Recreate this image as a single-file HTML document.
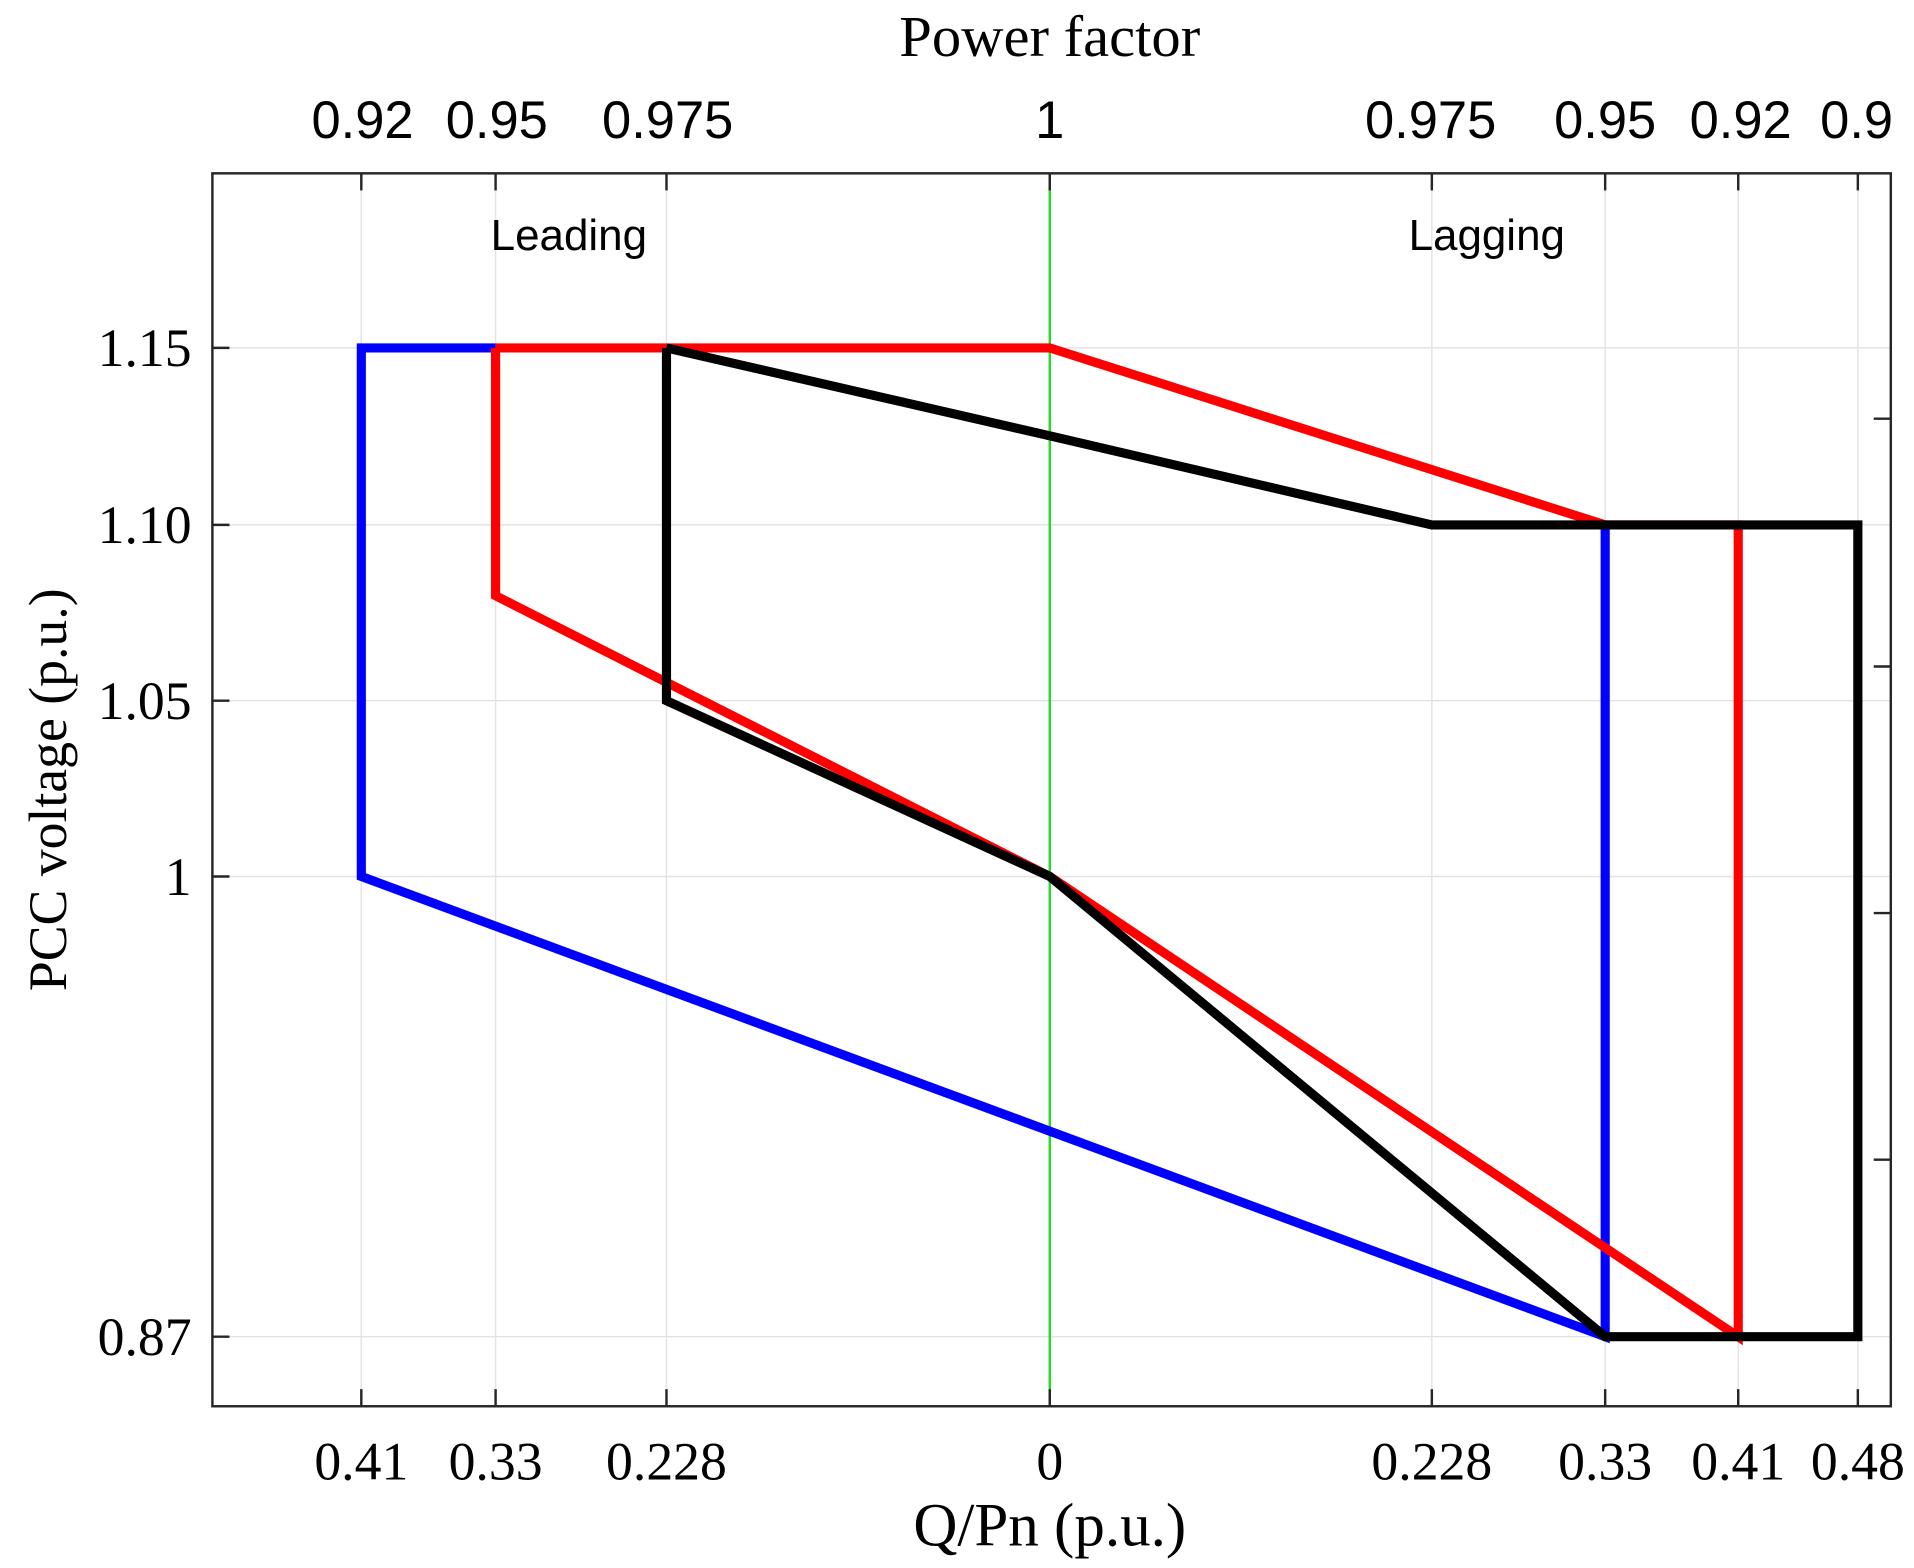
<!DOCTYPE html>
<html><head><meta charset="utf-8"><style>
html,body{margin:0;padding:0;background:#fff;}
svg{display:block;}
.s{font-family:"Liberation Serif",serif;font-size:44px;fill:#000;}
.a{font-family:"Liberation Sans",sans-serif;font-size:43px;fill:#000;}
</style></head><body>
<svg width="1914" height="1568" viewBox="0 0 1568 1284.5" preserveAspectRatio="none" xmlns="http://www.w3.org/2000/svg">
<rect width="1568" height="1284.5" fill="#fff"/>
<g stroke="#e3e3e3" stroke-width="1.2">
<line x1="296" y1="142" x2="296" y2="1152"/><line x1="406" y1="142" x2="406" y2="1152"/>
<line x1="546" y1="142" x2="546" y2="1152"/><line x1="1173" y1="142" x2="1173" y2="1152"/>
<line x1="1315" y1="142" x2="1315" y2="1152"/><line x1="1424" y1="142" x2="1424" y2="1152"/>
<line x1="1522" y1="142" x2="1522" y2="1152"/>
<line x1="174" y1="285" x2="1549" y2="285"/><line x1="174" y1="430" x2="1549" y2="430"/>
<line x1="174" y1="574" x2="1549" y2="574"/><line x1="174" y1="718" x2="1549" y2="718"/>
<line x1="174" y1="1095" x2="1549" y2="1095"/>
</g>
<line x1="860" y1="142" x2="860" y2="1152" stroke="#22dd22" stroke-width="2"/>
<g fill="none" stroke-width="7.5" stroke-linejoin="miter">
<polyline stroke="#0000ff" points="406,285 296,285 296,718 1315,1095 1315,430"/>
<polyline stroke="#ff0000" points="406,285 860,285 1315,430 1424,430 1424,1095 860,718 406,488 406,285"/>
<polyline stroke="#000" points="546,285 860,357 1173,430 1522,430 1522,1095 1315,1095 860,718 546,574 546,285"/>
</g>
<rect x="174" y="142" width="1375" height="1010" fill="none" stroke="#262626" stroke-width="2"/>
<g stroke="#262626" stroke-width="2">
<line x1="296" y1="1152" x2="296" y2="1138"/><line x1="406" y1="1152" x2="406" y2="1138"/>
<line x1="546" y1="1152" x2="546" y2="1138"/><line x1="860" y1="1152" x2="860" y2="1138"/>
<line x1="1173" y1="1152" x2="1173" y2="1138"/><line x1="1315" y1="1152" x2="1315" y2="1138"/>
<line x1="1424" y1="1152" x2="1424" y2="1138"/><line x1="1522" y1="1152" x2="1522" y2="1138"/>
<line x1="296" y1="142" x2="296" y2="156"/><line x1="406" y1="142" x2="406" y2="156"/>
<line x1="546" y1="142" x2="546" y2="156"/><line x1="860" y1="142" x2="860" y2="156"/>
<line x1="1173" y1="142" x2="1173" y2="156"/><line x1="1315" y1="142" x2="1315" y2="156"/>
<line x1="1424" y1="142" x2="1424" y2="156"/><line x1="1522" y1="142" x2="1522" y2="156"/>
<line x1="174" y1="285" x2="188" y2="285"/><line x1="174" y1="430" x2="188" y2="430"/>
<line x1="174" y1="574" x2="188" y2="574"/><line x1="174" y1="718" x2="188" y2="718"/>
<line x1="174" y1="1095" x2="188" y2="1095"/>
<line x1="1549" y1="343" x2="1535" y2="343"/><line x1="1549" y1="546" x2="1535" y2="546"/>
<line x1="1549" y1="748" x2="1535" y2="748"/><line x1="1549" y1="950" x2="1535" y2="950"/>
</g>
<g class="s" text-anchor="middle">
<text x="296" y="1212">0.41</text><text x="406" y="1212">0.33</text>
<text x="546" y="1212">0.228</text><text x="860" y="1212">0</text>
<text x="1173" y="1212">0.228</text><text x="1315" y="1212">0.33</text>
<text x="1424" y="1212">0.41</text><text x="1522" y="1212">0.48</text>
<text x="860" y="1266" font-size="50">Q/Pn (p.u.)</text>
<text x="860" y="46" font-size="48">Power factor</text>
</g>
<g class="s" text-anchor="end">
<text x="157" y="300">1.15</text><text x="157" y="445">1.10</text>
<text x="157" y="589">1.05</text><text x="157" y="733">1</text>
<text x="157" y="1110">0.87</text>
</g>
<text class="s" font-size="50" text-anchor="middle" transform="translate(54,647) rotate(-90)">PCC voltage (p.u.)</text>
<g class="a" text-anchor="middle">
<text x="297" y="113">0.92</text><text x="407" y="113">0.95</text>
<text x="547" y="113">0.975</text><text x="860" y="113">1</text>
<text x="1172" y="113">0.975</text><text x="1315" y="113">0.95</text>
<text x="1426" y="113">0.92</text><text x="1521" y="113">0.9</text>
</g>
<g font-family="Liberation Sans, sans-serif" font-size="36" text-anchor="middle">
<text x="466" y="205">Leading</text><text x="1218" y="205">Lagging</text>
</g>
</svg>
</body></html>
